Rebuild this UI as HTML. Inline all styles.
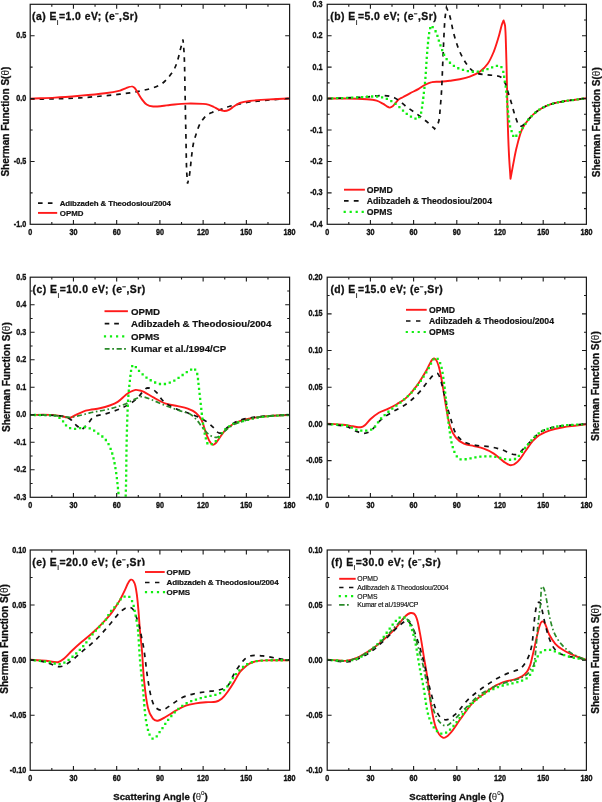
<!DOCTYPE html><html><head><meta charset="utf-8"><style>html,body{margin:0;padding:0;background:#fff;width:602px;height:802px;overflow:hidden}svg{display:block;will-change:transform}text{font-family:"Liberation Sans", sans-serif;}</style></head><body>
<svg width="602" height="802" viewBox="0 0 602 802">
<rect width="602" height="802" fill="#fff"/>
<defs><clipPath id="clipa"><rect x="30.2" y="4.3" width="259.4" height="220.0"/></clipPath></defs>
<g clip-path="url(#clipa)">
<path d="M30.0 99.2C38.3 99.1 46.7 99.0 55.0 98.8C63.3 98.6 71.7 98.4 80.0 97.9C88.3 97.4 96.7 96.5 105.0 95.7C113.3 94.9 121.7 94.0 130.0 92.9C133.4 92.4 136.7 91.7 140.0 91.0C144.4 90.0 148.9 89.2 153.2 87.8C156.1 86.9 158.9 85.6 161.5 84.0C163.6 82.7 165.3 80.8 167.0 79.0C168.5 77.5 169.8 75.8 171.0 74.0C172.5 71.9 173.9 69.8 175.0 67.5C176.3 64.8 177.1 61.9 178.0 59.0C179.0 55.7 179.6 52.3 180.5 49.0C181.3 45.8 182.2 42.7 183.0 39.5C183.4 44.7 184.0 49.8 184.2 55.0C184.7 66.7 184.8 78.3 185.0 90.0C185.3 103.3 185.5 116.7 185.8 130.0C186.1 143.3 186.2 156.7 186.6 170.0C186.8 174.5 187.3 179.1 187.6 183.6C188.2 180.7 189.1 177.9 189.5 175.0C190.4 169.0 190.8 163.0 191.5 157.0C192.1 152.3 192.6 147.6 193.5 143.0C194.1 140.1 195.1 137.3 196.0 134.5C197.2 130.9 198.2 127.2 200.0 123.8C201.6 120.9 203.6 118.1 206.0 115.8C207.7 114.2 209.9 113.4 212.0 112.5C214.5 111.4 217.2 110.8 219.8 109.9C223.1 108.7 226.4 107.3 229.8 106.3C233.1 105.3 236.5 104.7 239.8 104.0C243.1 103.3 246.4 102.4 249.7 102.0C256.3 101.1 263.0 100.6 269.7 100.0C276.3 99.4 283.0 98.9 289.6 98.4" fill="none" stroke="#111" stroke-width="1.7" stroke-dasharray="4.6 5"/>
<path d="M30.0 98.7C38.3 98.3 46.7 98.1 55.0 97.6C63.3 97.1 71.7 96.4 80.0 95.7C88.3 95.0 96.7 94.3 105.0 93.2C110.0 92.6 115.1 91.8 120.0 90.6C122.1 90.1 124.0 88.9 126.0 88.2C127.8 87.5 129.6 86.5 131.6 86.4C132.7 86.3 133.7 87.1 134.5 87.8C135.6 88.8 136.2 90.2 137.0 91.5C138.6 93.9 139.9 96.6 141.6 98.9C143.1 100.9 144.5 103.1 146.6 104.5C148.5 105.8 150.9 106.3 153.2 106.5C156.1 106.8 159.1 106.3 162.0 106.0C164.6 105.8 167.2 105.3 169.8 105.0C175.3 104.5 180.9 103.8 186.4 103.6C191.9 103.4 197.5 103.6 203.0 103.9C205.0 104.0 207.1 104.3 209.0 104.8C210.8 105.3 212.4 106.2 214.0 107.0C215.7 107.8 217.2 108.9 219.0 109.6C220.8 110.3 222.6 111.0 224.5 111.0C226.1 111.0 227.6 110.5 229.0 109.8C230.7 109.0 232.2 107.5 233.8 106.5C235.8 105.3 237.6 103.8 239.8 103.0C243.0 101.9 246.4 101.4 249.7 101.0C256.3 100.2 263.0 99.8 269.7 99.4C276.3 99.0 283.0 98.7 289.6 98.4" fill="none" stroke="#ff1a1a" stroke-width="1.9" stroke-linejoin="round"/>
</g>
<rect x="30.2" y="4.3" width="259.4" height="220.0" fill="none" stroke="#1a1a1a" stroke-width="1.2"/>
<path d="M51.82 224.3v-2.4M51.82 4.3v2.4M73.43 224.3v-4.4M73.43 4.3v4.4M95.05 224.3v-2.4M95.05 4.3v2.4M116.67 224.3v-4.4M116.67 4.3v4.4M138.28 224.3v-2.4M138.28 4.3v2.4M159.9 224.3v-4.4M159.9 4.3v4.4M181.52 224.3v-2.4M181.52 4.3v2.4M203.13 224.3v-4.4M203.13 4.3v4.4M224.75 224.3v-2.4M224.75 4.3v2.4M246.37 224.3v-4.4M246.37 4.3v4.4M267.98 224.3v-2.4M267.98 4.3v2.4M30.2 192.87h2.4M289.6 192.87h-2.4M30.2 161.44h4.4M289.6 161.44h-4.4M30.2 130.01h2.4M289.6 130.01h-2.4M30.2 98.59h4.4M289.6 98.59h-4.4M30.2 67.16h2.4M289.6 67.16h-2.4M30.2 35.73h4.4M289.6 35.73h-4.4" stroke="#1a1a1a" stroke-width="1.1" fill="none"/>
<g font-size="8.4" font-weight="bold" fill="#111" stroke="#111" stroke-width="0.35"><text x="30.2" y="234.9" text-anchor="middle" textLength="4.02" lengthAdjust="spacingAndGlyphs">0</text><text x="73.43" y="234.9" text-anchor="middle" textLength="8.04" lengthAdjust="spacingAndGlyphs">30</text><text x="116.67" y="234.9" text-anchor="middle" textLength="8.04" lengthAdjust="spacingAndGlyphs">60</text><text x="159.9" y="234.9" text-anchor="middle" textLength="8.04" lengthAdjust="spacingAndGlyphs">90</text><text x="203.13" y="234.9" text-anchor="middle" textLength="12.05" lengthAdjust="spacingAndGlyphs">120</text><text x="246.37" y="234.9" text-anchor="middle" textLength="12.05" lengthAdjust="spacingAndGlyphs">150</text><text x="289.6" y="234.9" text-anchor="middle" textLength="12.05" lengthAdjust="spacingAndGlyphs">180</text><text x="26.3" y="226.9" text-anchor="end" textLength="12.45" lengthAdjust="spacingAndGlyphs">-1.0</text><text x="26.3" y="164.04" text-anchor="end" textLength="12.45" lengthAdjust="spacingAndGlyphs">-0.5</text><text x="26.3" y="101.19" text-anchor="end" textLength="10.04" lengthAdjust="spacingAndGlyphs">0.0</text><text x="26.3" y="38.33" text-anchor="end" textLength="10.04" lengthAdjust="spacingAndGlyphs">0.5</text></g>
<defs><clipPath id="clipb"><rect x="327.2" y="4.3" width="259.2" height="220.0"/></clipPath></defs>
<g clip-path="url(#clipb)">
<path d="M327.2 98.5C333.8 98.5 340.4 98.4 347.0 98.5C353.6 98.6 360.3 98.8 366.9 99.3C370.2 99.5 373.5 99.7 376.6 100.6C379.0 101.3 381.1 102.7 383.3 103.9C384.7 104.7 385.9 105.8 387.3 106.6C388.1 107.1 389.0 107.7 389.9 107.6C390.9 107.5 391.8 106.9 392.6 106.3C393.6 105.5 394.3 104.3 395.2 103.3C396.3 102.1 397.3 100.6 398.6 99.6C400.0 98.5 401.7 97.9 403.2 97.0C405.4 95.8 407.6 94.5 409.9 93.3C412.8 91.8 415.8 90.5 418.7 88.9C420.8 87.7 422.6 86.1 424.7 85.0C427.0 83.8 429.4 82.6 431.9 82.1C434.5 81.5 437.2 81.9 439.9 81.7C443.2 81.4 446.5 81.1 449.8 80.7C453.1 80.3 456.5 80.0 459.8 79.3C463.2 78.6 466.6 77.9 469.8 76.7C473.2 75.4 476.7 74.0 479.7 71.8C482.8 69.6 485.5 66.9 487.7 63.8C490.3 60.1 492.0 55.9 493.7 51.8C495.8 46.7 497.3 41.3 498.9 36.0C500.0 32.2 500.8 28.3 501.9 24.5C502.3 23.1 503.0 21.8 503.6 20.4C504.1 22.3 504.9 24.1 505.1 26.0C505.8 34.0 505.8 42.0 506.1 50.0C506.4 60.7 506.7 71.3 506.9 82.0C507.2 93.5 507.3 105.1 507.6 116.6C507.9 128.8 508.3 140.9 508.9 153.1C509.3 161.6 510.0 170.2 510.5 178.7C511.3 174.4 512.1 170.2 512.9 165.9C514.1 159.8 515.1 153.6 516.6 147.6C518.1 141.5 519.5 135.2 522.0 129.4C523.8 125.4 526.5 121.8 529.4 118.4C532.1 115.3 535.1 112.5 538.5 110.2C541.9 107.9 545.6 106.1 549.5 104.7C553.6 103.2 558.0 102.4 562.3 101.6C566.5 100.8 570.8 100.3 575.1 99.7C578.7 99.2 582.4 98.8 586.0 98.3" fill="none" stroke="#ff1a1a" stroke-width="1.9" stroke-linejoin="round"/>
<path d="M327.2 98.5C333.8 98.3 340.4 98.2 347.0 97.9C353.6 97.6 360.3 97.3 366.9 96.9C372.2 96.5 377.5 95.3 382.8 95.5C386.9 95.6 391.1 96.1 394.8 97.9C399.3 100.0 402.7 104.0 406.7 106.9C411.3 110.3 416.1 113.4 420.7 116.8C423.9 119.2 427.0 121.9 430.0 124.5C431.6 125.9 433.1 127.4 434.6 128.8C435.9 126.5 437.9 124.4 438.6 121.8C439.8 117.3 439.8 112.6 440.2 108.0C440.8 102.0 441.3 95.9 441.6 89.9C442.2 79.9 442.4 69.8 442.9 59.8C443.5 46.7 443.9 33.6 444.8 20.5C445.1 16.1 445.9 11.8 446.5 7.5C447.6 10.3 449.0 13.0 449.8 15.9C451.4 21.8 452.2 28.0 453.8 33.9C455.5 40.0 457.3 46.0 459.8 51.8C462.0 56.7 464.6 61.5 467.8 65.8C469.9 68.6 472.5 71.2 475.7 72.8C478.7 74.3 482.3 74.2 485.7 74.7C489.0 75.2 492.4 75.1 495.7 75.7C497.8 76.1 500.1 76.3 501.7 77.7C503.6 79.3 504.5 81.8 505.5 84.0C506.6 86.6 507.2 89.3 508.0 92.0C509.0 95.3 510.1 98.6 511.1 101.9C512.4 106.2 513.4 110.5 514.7 114.7C515.8 118.2 517.2 121.7 518.4 125.2C519.6 125.5 521.0 126.6 522.0 126.0C525.0 124.1 526.8 120.8 529.4 118.4C532.3 115.6 535.1 112.5 538.5 110.2C541.9 107.9 545.6 106.1 549.5 104.7C553.6 103.2 558.0 102.4 562.3 101.6C566.5 100.8 570.8 100.3 575.1 99.7C578.7 99.2 582.4 98.8 586.0 98.3" fill="none" stroke="#111" stroke-width="1.7" stroke-dasharray="4.6 5"/>
<path d="M327.2 98.5C337.1 98.2 347.0 97.9 356.9 97.5C363.5 97.2 370.2 96.2 376.8 96.5C380.2 96.7 383.6 97.6 386.8 98.9C390.4 100.4 393.7 102.6 396.8 104.9C400.4 107.6 403.2 111.1 406.7 113.8C408.6 115.3 410.8 116.5 413.0 117.6C414.5 118.4 416.1 118.8 417.7 119.4C418.7 117.6 420.3 116.0 420.8 114.0C422.0 109.4 422.3 104.7 423.0 100.0C423.5 96.6 423.8 93.3 424.2 89.9C424.6 86.5 425.0 83.1 425.3 79.7C426.1 69.7 426.5 59.8 427.4 49.8C428.0 43.2 428.5 36.6 429.6 30.0C429.9 28.4 430.8 27.0 431.4 25.5C432.9 27.6 434.8 29.5 435.9 31.9C437.7 35.7 438.4 40.0 439.9 43.9C441.7 48.6 443.1 53.6 445.8 57.8C447.8 61.0 450.7 63.7 453.8 65.8C456.8 67.9 460.3 69.2 463.8 70.2C467.7 71.3 471.7 71.9 475.7 71.8C479.1 71.7 482.4 70.7 485.7 69.8C488.4 69.0 491.0 67.6 493.7 66.8C495.6 66.2 497.8 65.2 499.7 65.8C501.3 66.3 502.1 68.2 502.7 69.8C503.8 73.0 504.1 76.4 504.6 79.7C505.3 83.8 505.9 87.9 506.3 92.0C506.9 97.1 507.1 102.3 507.6 107.4C508.2 112.9 508.4 118.5 509.5 124.0C510.5 128.7 512.4 133.1 513.8 137.6C515.3 136.4 517.1 135.4 518.4 133.9C520.2 132.0 521.5 129.6 523.0 127.5C525.1 124.5 526.9 121.2 529.4 118.4C532.1 115.4 535.1 112.5 538.5 110.2C541.9 107.9 545.6 106.1 549.5 104.7C553.6 103.2 558.0 102.4 562.3 101.6C566.5 100.8 570.8 100.3 575.1 99.7C578.7 99.2 582.4 98.8 586.0 98.3" fill="none" stroke="#11ee11" stroke-width="2.3" stroke-linecap="square" stroke-dasharray="0 5"/>
</g>
<rect x="327.2" y="4.3" width="259.2" height="220.0" fill="none" stroke="#1a1a1a" stroke-width="1.2"/>
<path d="M348.8 224.3v-2.4M348.8 4.3v2.4M370.4 224.3v-4.4M370.4 4.3v4.4M392 224.3v-2.4M392 4.3v2.4M413.6 224.3v-4.4M413.6 4.3v4.4M435.2 224.3v-2.4M435.2 4.3v2.4M456.8 224.3v-4.4M456.8 4.3v4.4M478.4 224.3v-2.4M478.4 4.3v2.4M500 224.3v-4.4M500 4.3v4.4M521.6 224.3v-2.4M521.6 4.3v2.4M543.2 224.3v-4.4M543.2 4.3v4.4M564.8 224.3v-2.4M564.8 4.3v2.4M327.2 208.59h2.4M586.4 208.59h-2.4M327.2 192.87h4.4M586.4 192.87h-4.4M327.2 177.16h2.4M586.4 177.16h-2.4M327.2 161.44h4.4M586.4 161.44h-4.4M327.2 145.73h2.4M586.4 145.73h-2.4M327.2 130.01h4.4M586.4 130.01h-4.4M327.2 114.3h2.4M586.4 114.3h-2.4M327.2 98.59h4.4M586.4 98.59h-4.4M327.2 82.87h2.4M586.4 82.87h-2.4M327.2 67.16h4.4M586.4 67.16h-4.4M327.2 51.44h2.4M586.4 51.44h-2.4M327.2 35.73h4.4M586.4 35.73h-4.4M327.2 20.01h2.4M586.4 20.01h-2.4" stroke="#1a1a1a" stroke-width="1.1" fill="none"/>
<g font-size="8.4" font-weight="bold" fill="#111" stroke="#111" stroke-width="0.35"><text x="327.2" y="234.9" text-anchor="middle" textLength="4.02" lengthAdjust="spacingAndGlyphs">0</text><text x="370.4" y="234.9" text-anchor="middle" textLength="8.04" lengthAdjust="spacingAndGlyphs">30</text><text x="413.6" y="234.9" text-anchor="middle" textLength="8.04" lengthAdjust="spacingAndGlyphs">60</text><text x="456.8" y="234.9" text-anchor="middle" textLength="8.04" lengthAdjust="spacingAndGlyphs">90</text><text x="500" y="234.9" text-anchor="middle" textLength="12.05" lengthAdjust="spacingAndGlyphs">120</text><text x="543.2" y="234.9" text-anchor="middle" textLength="12.05" lengthAdjust="spacingAndGlyphs">150</text><text x="586.4" y="234.9" text-anchor="middle" textLength="12.05" lengthAdjust="spacingAndGlyphs">180</text><text x="322.6" y="226.9" text-anchor="end" textLength="12.45" lengthAdjust="spacingAndGlyphs">-0.4</text><text x="322.6" y="195.47" text-anchor="end" textLength="12.45" lengthAdjust="spacingAndGlyphs">-0.3</text><text x="322.6" y="164.04" text-anchor="end" textLength="12.45" lengthAdjust="spacingAndGlyphs">-0.2</text><text x="322.6" y="132.61" text-anchor="end" textLength="12.45" lengthAdjust="spacingAndGlyphs">-0.1</text><text x="322.6" y="101.19" text-anchor="end" textLength="10.04" lengthAdjust="spacingAndGlyphs">0.0</text><text x="322.6" y="69.76" text-anchor="end" textLength="10.04" lengthAdjust="spacingAndGlyphs">0.1</text><text x="322.6" y="38.33" text-anchor="end" textLength="10.04" lengthAdjust="spacingAndGlyphs">0.2</text><text x="322.6" y="6.9" text-anchor="end" textLength="10.04" lengthAdjust="spacingAndGlyphs">0.3</text></g>
<defs><clipPath id="clipc"><rect x="30.2" y="277.2" width="259.4" height="220.1"/></clipPath></defs>
<g clip-path="url(#clipc)">
<path d="M30.0 414.9C36.6 414.9 43.3 414.7 49.9 414.9C53.2 415.0 56.6 415.4 59.9 415.9C61.6 416.1 63.3 416.7 65.0 417.0C66.6 417.3 68.3 418.2 69.9 417.9C72.1 417.5 73.8 415.8 75.8 414.9C78.4 413.6 81.0 412.3 83.8 411.3C85.7 410.6 87.8 410.3 89.8 409.9C93.1 409.3 96.5 409.0 99.8 408.3C103.1 407.6 106.5 406.7 109.7 405.5C112.5 404.5 115.3 403.5 117.7 401.9C120.6 400.0 123.0 397.2 125.7 395.0C127.1 393.9 128.4 392.8 130.0 392.0C131.8 391.1 133.6 390.2 135.6 389.9C137.1 389.7 138.6 390.2 140.0 390.5C141.3 390.8 142.7 391.2 143.9 391.8C147.3 393.6 150.5 395.9 153.9 397.7C157.8 399.8 161.6 402.2 165.8 403.7C169.6 405.1 173.8 405.2 177.8 406.1C181.2 406.9 184.6 407.5 187.8 408.7C190.6 409.7 193.4 410.8 195.7 412.7C198.1 414.7 200.2 417.3 201.6 420.2C203.9 424.8 204.7 430.1 206.6 434.9C207.8 437.8 208.9 440.8 210.8 443.2C211.5 444.1 213.0 445.0 214.1 444.5C216.0 443.6 216.9 441.4 218.2 439.8C220.5 436.8 222.3 433.4 224.9 430.7C227.3 428.1 230.1 425.8 233.2 424.0C236.3 422.2 239.7 420.9 243.2 419.9C247.5 418.7 252.0 418.0 256.4 417.4C261.9 416.6 267.5 416.1 273.0 415.7C278.6 415.3 284.1 415.2 289.7 414.9" fill="none" stroke="#ff1a1a" stroke-width="1.9" stroke-linejoin="round"/>
<path d="M30.0 414.9C40.0 415.2 50.0 414.9 59.9 415.9C63.4 416.2 66.9 417.2 69.9 418.9C72.3 420.3 73.7 422.9 75.8 424.8C77.7 426.6 79.8 428.1 81.8 429.8C83.8 427.8 85.9 426.0 87.8 423.9C89.9 421.6 91.1 418.4 93.8 416.9C97.4 414.9 101.8 415.1 105.7 413.9C110.4 412.4 115.1 410.8 119.7 408.9C123.1 407.5 126.5 405.9 129.7 403.9C132.5 402.2 135.2 400.2 137.6 397.9C139.6 396.0 141.0 393.5 143.0 391.5C144.5 390.1 145.9 387.8 147.9 387.8C150.9 387.9 153.6 389.8 155.9 391.8C159.1 394.6 160.7 399.0 163.9 401.7C167.4 404.7 171.6 406.8 175.8 408.7C180.3 410.8 185.2 412.0 189.8 413.7C193.1 415.0 196.5 416.2 199.7 417.7C202.1 418.8 204.4 420.1 206.6 421.6C209.0 423.3 211.1 425.5 213.3 427.4C215.5 429.3 217.0 433.0 219.9 433.2C222.7 433.4 224.2 429.8 226.5 428.2C229.8 425.9 232.9 423.3 236.5 421.6C240.2 419.9 244.1 419.0 248.1 418.2C253.6 417.1 259.2 416.6 264.8 416.2C273.1 415.5 281.4 415.3 289.7 414.9" fill="none" stroke="#111" stroke-width="1.7" stroke-dasharray="4.6 5"/>
<path d="M30.0 414.9C38.0 415.1 46.0 414.9 53.9 415.5C55.4 415.6 56.7 416.3 58.0 417.0C59.4 417.8 60.8 418.8 61.9 419.9C63.1 421.1 63.9 422.7 65.0 424.0C65.9 425.1 66.6 426.5 67.9 427.2C69.7 428.2 71.8 428.6 73.9 428.8C75.9 429.0 78.0 428.5 80.0 428.2C82.0 427.9 83.8 426.9 85.8 427.0C87.3 427.0 88.7 427.9 90.0 428.5C92.0 429.5 94.0 430.5 95.8 431.8C99.2 434.3 103.1 436.5 105.7 439.8C108.5 443.3 110.3 447.6 111.7 451.8C113.6 457.6 114.7 463.7 115.7 469.7C117.1 478.3 117.8 487.0 118.7 495.6C119.4 502.1 119.9 508.5 120.5 515.0C121.7 515.0 122.8 515.0 124.0 515.0C124.6 508.5 125.5 502.1 125.7 495.6C126.4 477.0 126.2 458.4 126.7 439.8C127.0 426.5 127.4 413.2 128.1 399.9C128.5 393.2 129.2 386.5 130.0 379.8C130.5 375.3 130.8 370.8 132.0 366.5C132.2 365.7 133.3 365.4 134.0 364.8C136.0 367.1 137.7 369.7 139.9 371.8C143.0 374.7 146.2 377.7 149.9 379.8C153.6 381.9 157.6 384.0 161.9 384.2C166.0 384.4 170.1 382.6 173.8 380.8C178.1 378.7 181.7 375.4 185.8 372.8C188.4 371.2 191.1 369.7 193.7 368.2C194.7 369.4 196.3 370.3 196.7 371.8C198.0 376.3 198.1 381.1 198.7 385.8C199.4 391.8 200.0 397.7 200.7 403.7C201.5 410.8 202.2 417.9 203.2 425.0C203.8 429.0 204.5 433.1 205.5 437.0C206.2 439.5 206.3 442.7 208.3 444.3C209.6 445.4 211.8 444.1 213.3 443.2C215.3 442.0 216.7 440.0 218.2 438.2C220.5 435.5 222.3 432.3 224.9 429.9C227.4 427.6 230.1 425.4 233.2 424.0C236.8 422.3 240.9 421.7 244.8 420.7C248.7 419.7 252.5 418.5 256.4 417.8C261.9 416.9 267.5 416.4 273.0 415.9C278.6 415.4 284.1 415.2 289.7 414.9" fill="none" stroke="#11ee11" stroke-width="2.3" stroke-linecap="square" stroke-dasharray="0 5"/>
<path d="M30.0 414.9C40.0 415.2 49.9 415.3 59.9 415.9C63.3 416.1 66.5 417.4 69.9 417.3C73.3 417.2 76.5 416.2 79.8 415.5C83.2 414.8 86.4 413.6 89.8 412.9C96.4 411.4 103.1 410.5 109.7 408.9C115.1 407.5 120.5 405.8 125.7 403.9C127.2 403.3 128.5 402.2 130.0 401.5C131.8 400.6 133.7 399.7 135.6 398.9C137.7 398.1 139.7 396.5 141.9 396.7C146.1 397.1 150.0 399.2 153.9 400.7C157.9 402.2 161.8 404.2 165.8 405.7C170.4 407.5 175.1 409.1 179.8 410.7C183.2 411.9 186.9 412.3 190.0 414.0C192.6 415.4 194.6 417.7 196.6 419.9C199.1 422.6 200.9 425.8 203.3 428.5C205.4 430.9 207.3 433.5 209.9 435.2C211.9 436.5 214.3 437.8 216.6 437.3C219.3 436.7 221.0 434.0 223.2 432.4C226.5 429.9 229.5 426.9 233.2 424.9C236.8 422.9 240.9 421.9 244.8 420.7C248.6 419.5 252.5 418.3 256.4 417.6C261.9 416.6 267.5 416.2 273.0 415.8C278.6 415.3 284.1 415.2 289.7 414.9" fill="none" stroke="#2a8a2a" stroke-width="1.7" stroke-dasharray="5 2.6 1.6 2.6"/>
</g>
<rect x="30.2" y="277.2" width="259.4" height="220.1" fill="none" stroke="#1a1a1a" stroke-width="1.2"/>
<path d="M51.82 497.3v-2.4M51.82 277.2v2.4M73.43 497.3v-4.4M73.43 277.2v4.4M95.05 497.3v-2.4M95.05 277.2v2.4M116.67 497.3v-4.4M116.67 277.2v4.4M138.28 497.3v-2.4M138.28 277.2v2.4M159.9 497.3v-4.4M159.9 277.2v4.4M181.52 497.3v-2.4M181.52 277.2v2.4M203.13 497.3v-4.4M203.13 277.2v4.4M224.75 497.3v-2.4M224.75 277.2v2.4M246.37 497.3v-4.4M246.37 277.2v4.4M267.98 497.3v-2.4M267.98 277.2v2.4M30.2 483.54h2.4M289.6 483.54h-2.4M30.2 469.79h4.4M289.6 469.79h-4.4M30.2 456.03h2.4M289.6 456.03h-2.4M30.2 442.27h4.4M289.6 442.27h-4.4M30.2 428.52h2.4M289.6 428.52h-2.4M30.2 414.76h4.4M289.6 414.76h-4.4M30.2 401.01h2.4M289.6 401.01h-2.4M30.2 387.25h4.4M289.6 387.25h-4.4M30.2 373.49h2.4M289.6 373.49h-2.4M30.2 359.74h4.4M289.6 359.74h-4.4M30.2 345.98h2.4M289.6 345.98h-2.4M30.2 332.22h4.4M289.6 332.22h-4.4M30.2 318.47h2.4M289.6 318.47h-2.4M30.2 304.71h4.4M289.6 304.71h-4.4M30.2 290.96h2.4M289.6 290.96h-2.4" stroke="#1a1a1a" stroke-width="1.1" fill="none"/>
<g font-size="8.4" font-weight="bold" fill="#111" stroke="#111" stroke-width="0.35"><text x="30.2" y="507.9" text-anchor="middle" textLength="4.02" lengthAdjust="spacingAndGlyphs">0</text><text x="73.43" y="507.9" text-anchor="middle" textLength="8.04" lengthAdjust="spacingAndGlyphs">30</text><text x="116.67" y="507.9" text-anchor="middle" textLength="8.04" lengthAdjust="spacingAndGlyphs">60</text><text x="159.9" y="507.9" text-anchor="middle" textLength="8.04" lengthAdjust="spacingAndGlyphs">90</text><text x="203.13" y="507.9" text-anchor="middle" textLength="12.05" lengthAdjust="spacingAndGlyphs">120</text><text x="246.37" y="507.9" text-anchor="middle" textLength="12.05" lengthAdjust="spacingAndGlyphs">150</text><text x="289.6" y="507.9" text-anchor="middle" textLength="12.05" lengthAdjust="spacingAndGlyphs">180</text><text x="26.3" y="499.9" text-anchor="end" textLength="12.45" lengthAdjust="spacingAndGlyphs">-0.3</text><text x="26.3" y="472.39" text-anchor="end" textLength="12.45" lengthAdjust="spacingAndGlyphs">-0.2</text><text x="26.3" y="444.88" text-anchor="end" textLength="12.45" lengthAdjust="spacingAndGlyphs">-0.1</text><text x="26.3" y="417.36" text-anchor="end" textLength="10.04" lengthAdjust="spacingAndGlyphs">0.0</text><text x="26.3" y="389.85" text-anchor="end" textLength="10.04" lengthAdjust="spacingAndGlyphs">0.1</text><text x="26.3" y="362.34" text-anchor="end" textLength="10.04" lengthAdjust="spacingAndGlyphs">0.2</text><text x="26.3" y="334.83" text-anchor="end" textLength="10.04" lengthAdjust="spacingAndGlyphs">0.3</text><text x="26.3" y="307.31" text-anchor="end" textLength="10.04" lengthAdjust="spacingAndGlyphs">0.4</text><text x="26.3" y="279.8" text-anchor="end" textLength="10.04" lengthAdjust="spacingAndGlyphs">0.5</text></g>
<defs><clipPath id="clipd"><rect x="327.2" y="277.2" width="259.2" height="220.1"/></clipPath></defs>
<g clip-path="url(#clipd)">
<path d="M327.2 423.7C332.5 424.0 337.7 424.2 343.0 424.7C346.3 425.0 349.6 425.8 352.9 426.3C355.6 426.7 358.2 427.5 360.9 427.3C362.4 427.2 363.8 426.3 364.9 425.3C367.1 423.4 368.7 420.8 370.9 418.8C373.4 416.6 376.0 414.5 378.8 412.8C381.3 411.3 384.2 410.6 386.8 409.4C390.2 407.8 393.6 406.1 396.8 404.2C400.2 402.1 403.8 400.1 406.7 397.4C410.4 394.0 413.7 390.0 416.7 385.9C420.4 380.8 423.5 375.3 426.7 369.9C428.3 367.2 429.3 364.2 431.0 361.5C431.8 360.3 432.6 357.9 434.0 358.4C436.2 359.2 437.3 361.8 438.0 364.0C440.0 369.8 440.9 375.9 442.0 381.9C443.5 389.8 444.5 397.9 445.9 405.8C447.1 412.5 447.9 419.2 449.9 425.7C451.2 430.0 453.2 434.2 455.9 437.7C457.9 440.3 460.9 442.3 463.9 443.7C467.0 445.1 470.6 445.3 473.9 446.1C477.2 446.9 480.6 447.5 483.8 448.7C487.3 450.0 490.7 451.6 493.8 453.6C497.4 455.9 500.2 459.2 503.7 461.6C505.9 463.1 508.1 465.2 510.7 465.2C513.3 465.2 515.8 463.4 517.7 461.6C520.9 458.5 523.0 454.3 525.7 450.7C528.0 447.5 530.0 444.2 532.6 441.2C534.6 439.0 536.7 436.8 539.2 435.2C542.5 433.1 546.2 431.5 549.9 430.3C554.2 428.9 558.7 428.0 563.2 427.2C567.6 426.4 572.0 426.1 576.4 425.5C579.7 425.1 583.0 424.7 586.3 424.3" fill="none" stroke="#ff1a1a" stroke-width="1.9" stroke-linejoin="round"/>
<path d="M327.2 424.1C333.8 425.0 340.5 425.2 346.9 426.7C349.8 427.4 352.1 429.6 354.9 430.7C357.8 431.8 360.8 433.3 363.9 433.3C366.4 433.3 369.0 432.3 370.9 430.7C374.7 427.6 377.1 423.0 380.8 419.8C384.4 416.7 388.7 414.3 392.8 411.8C397.3 409.0 402.4 407.0 406.7 403.8C411.1 400.6 415.0 396.8 418.7 392.9C421.7 389.8 424.0 386.2 426.7 382.9C429.3 379.9 431.5 376.5 434.6 374.0C435.5 373.3 437.4 373.0 438.0 373.9C440.2 377.1 440.9 381.1 442.0 384.9C443.6 390.5 444.5 396.2 445.9 401.8C447.1 406.5 448.4 411.2 449.9 415.8C451.8 421.8 452.9 428.2 455.9 433.7C457.7 437.0 460.6 439.8 463.9 441.7C467.5 443.8 471.7 444.5 475.8 445.3C480.4 446.2 485.2 445.9 489.8 446.7C493.9 447.4 497.9 448.5 501.8 449.7C506.5 451.1 510.8 454.8 515.7 454.6C519.0 454.4 521.2 450.9 523.7 448.7C526.0 446.7 527.8 444.2 529.9 442.0C532.1 439.7 534.2 437.3 536.6 435.2C538.6 433.5 540.8 431.7 543.2 430.6C546.6 429.0 550.2 428.0 553.9 427.2C558.2 426.2 562.7 425.6 567.1 425.2C573.5 424.6 579.9 424.5 586.3 424.2" fill="none" stroke="#111" stroke-width="1.7" stroke-dasharray="4.6 5"/>
<path d="M327.2 424.1C333.8 424.6 340.4 424.5 346.9 425.7C350.4 426.4 353.4 428.7 356.9 429.7C359.5 430.4 362.2 430.9 364.9 430.7C367.6 430.5 370.6 430.3 372.8 428.7C376.2 426.2 377.9 421.9 380.8 418.8C383.9 415.6 387.3 412.6 390.8 409.8C394.6 406.6 399.0 404.1 402.7 400.8C406.9 397.1 411.1 393.2 414.7 388.9C419.1 383.6 422.9 377.7 426.7 371.9C428.7 368.8 429.9 365.1 432.0 362.0C433.1 360.4 434.1 357.3 436.0 357.8C438.6 358.6 439.7 361.9 440.6 364.5C442.3 369.4 442.8 374.7 443.6 379.9C444.6 386.6 445.2 393.3 446.0 400.0C447.0 408.6 447.7 417.2 448.9 425.7C450.0 433.1 450.7 440.6 452.9 447.7C454.1 451.7 455.8 455.9 458.9 458.6C460.7 460.2 463.6 459.4 465.9 459.2C470.6 458.8 475.1 457.0 479.8 456.6C484.4 456.2 489.2 456.1 493.8 456.6C498.5 457.1 503.0 459.2 507.7 459.6C510.4 459.8 513.4 460.0 515.7 458.6C519.1 456.5 521.1 452.7 523.7 449.7C525.8 447.2 527.7 444.5 529.9 442.0C532.0 439.6 534.2 437.3 536.6 435.2C538.6 433.5 540.8 431.7 543.2 430.6C546.6 429.0 550.2 428.0 553.9 427.2C558.2 426.2 562.7 425.6 567.1 425.2C573.5 424.6 579.9 424.5 586.3 424.2" fill="none" stroke="#11ee11" stroke-width="2.3" stroke-linecap="square" stroke-dasharray="0 5"/>
</g>
<rect x="327.2" y="277.2" width="259.2" height="220.1" fill="none" stroke="#1a1a1a" stroke-width="1.2"/>
<path d="M348.8 497.3v-2.4M348.8 277.2v2.4M370.4 497.3v-4.4M370.4 277.2v4.4M392 497.3v-2.4M392 277.2v2.4M413.6 497.3v-4.4M413.6 277.2v4.4M435.2 497.3v-2.4M435.2 277.2v2.4M456.8 497.3v-4.4M456.8 277.2v4.4M478.4 497.3v-2.4M478.4 277.2v2.4M500 497.3v-4.4M500 277.2v4.4M521.6 497.3v-2.4M521.6 277.2v2.4M543.2 497.3v-4.4M543.2 277.2v4.4M564.8 497.3v-2.4M564.8 277.2v2.4M327.2 478.96h2.4M586.4 478.96h-2.4M327.2 460.62h4.4M586.4 460.62h-4.4M327.2 442.27h2.4M586.4 442.27h-2.4M327.2 423.93h4.4M586.4 423.93h-4.4M327.2 405.59h2.4M586.4 405.59h-2.4M327.2 387.25h4.4M586.4 387.25h-4.4M327.2 368.91h2.4M586.4 368.91h-2.4M327.2 350.57h4.4M586.4 350.57h-4.4M327.2 332.23h2.4M586.4 332.23h-2.4M327.2 313.88h4.4M586.4 313.88h-4.4M327.2 295.54h2.4M586.4 295.54h-2.4" stroke="#1a1a1a" stroke-width="1.1" fill="none"/>
<g font-size="8.4" font-weight="bold" fill="#111" stroke="#111" stroke-width="0.35"><text x="327.2" y="507.9" text-anchor="middle" textLength="4.02" lengthAdjust="spacingAndGlyphs">0</text><text x="370.4" y="507.9" text-anchor="middle" textLength="8.04" lengthAdjust="spacingAndGlyphs">30</text><text x="413.6" y="507.9" text-anchor="middle" textLength="8.04" lengthAdjust="spacingAndGlyphs">60</text><text x="456.8" y="507.9" text-anchor="middle" textLength="8.04" lengthAdjust="spacingAndGlyphs">90</text><text x="500" y="507.9" text-anchor="middle" textLength="12.05" lengthAdjust="spacingAndGlyphs">120</text><text x="543.2" y="507.9" text-anchor="middle" textLength="12.05" lengthAdjust="spacingAndGlyphs">150</text><text x="586.4" y="507.9" text-anchor="middle" textLength="12.05" lengthAdjust="spacingAndGlyphs">180</text><text x="322.6" y="499.9" text-anchor="end" textLength="16.47" lengthAdjust="spacingAndGlyphs">-0.10</text><text x="322.6" y="463.22" text-anchor="end" textLength="16.47" lengthAdjust="spacingAndGlyphs">-0.05</text><text x="322.6" y="426.53" text-anchor="end" textLength="14.06" lengthAdjust="spacingAndGlyphs">0.00</text><text x="322.6" y="389.85" text-anchor="end" textLength="14.06" lengthAdjust="spacingAndGlyphs">0.05</text><text x="322.6" y="353.17" text-anchor="end" textLength="14.06" lengthAdjust="spacingAndGlyphs">0.10</text><text x="322.6" y="316.48" text-anchor="end" textLength="14.06" lengthAdjust="spacingAndGlyphs">0.15</text><text x="322.6" y="279.8" text-anchor="end" textLength="14.06" lengthAdjust="spacingAndGlyphs">0.20</text></g>
<defs><clipPath id="clipe"><rect x="30.2" y="550.0" width="259.4" height="220.3"/></clipPath></defs>
<g clip-path="url(#clipe)">
<path d="M30.0 659.8C35.3 660.1 40.6 660.3 45.9 660.8C49.9 661.1 53.9 662.6 57.9 662.2C60.2 661.9 62.1 660.3 63.9 658.8C66.8 656.4 69.2 653.4 71.9 650.8C75.1 647.7 78.4 644.7 81.8 641.8C85.1 639.0 88.6 636.4 91.8 633.5C95.2 630.4 98.6 627.2 101.8 623.9C104.6 621.0 107.4 618.0 110.0 614.9C111.8 612.7 113.4 610.3 115.0 607.9C116.7 605.3 118.5 602.6 120.0 599.9C121.8 596.6 123.4 593.3 125.0 589.9C126.2 587.5 127.0 584.8 128.4 582.5C129.0 581.4 129.7 580.1 130.9 579.7C131.8 579.4 132.9 580.2 133.4 581.0C134.4 582.5 135.0 584.3 135.4 586.0C136.1 588.9 136.5 591.9 136.9 594.9C137.5 599.9 138.0 604.9 138.4 609.9C139.0 616.5 139.3 623.2 139.9 629.8C140.5 636.9 141.4 643.9 142.0 651.0C142.8 660.6 143.0 670.2 144.0 679.8C145.0 689.1 145.8 698.5 147.9 707.7C148.8 711.6 150.4 715.5 152.9 718.7C154.0 720.1 156.1 721.0 157.9 720.7C160.8 720.2 163.3 718.2 165.9 716.7C169.3 714.8 172.4 712.6 175.8 710.7C179.1 708.9 182.3 707.0 185.8 705.7C189.0 704.5 192.4 704.0 195.8 703.4C199.1 702.8 202.4 702.5 205.7 702.2C209.0 701.9 212.4 702.5 215.7 701.8C217.9 701.3 220.0 700.2 221.7 698.8C224.1 696.8 225.9 694.3 227.7 691.8C229.8 688.9 231.7 685.9 233.6 682.8C235.8 679.2 237.5 675.3 240.0 671.9C241.4 670.0 243.2 668.4 245.0 666.9C246.5 665.6 248.1 664.3 249.9 663.4C252.1 662.3 254.5 661.6 256.9 661.1C259.5 660.6 262.2 660.5 264.9 660.4C268.2 660.2 271.6 660.2 274.9 660.2C279.8 660.2 284.6 660.2 289.5 660.2" fill="none" stroke="#ff1a1a" stroke-width="1.9" stroke-linejoin="round"/>
<path d="M30.0 659.8C35.3 660.6 40.7 661.0 45.9 662.2C50.7 663.3 55.0 666.8 59.9 666.7C63.6 666.6 66.8 663.9 69.9 661.8C74.2 658.9 77.9 655.2 81.8 651.8C86.5 647.8 91.4 644.1 95.8 639.8C100.7 635.0 105.2 629.7 109.7 624.5C111.6 622.4 113.2 620.0 115.0 617.9C116.6 616.0 118.2 614.1 120.0 612.4C121.5 610.9 123.1 609.4 125.0 608.4C126.5 607.6 128.3 607.1 129.9 607.4C131.3 607.7 132.6 608.7 133.4 609.9C134.6 611.7 135.1 613.9 135.9 615.9C136.8 618.2 137.7 620.4 138.4 622.8C139.3 625.8 139.9 628.9 140.5 632.0C141.7 638.0 143.1 643.9 144.0 649.9C145.5 659.8 146.3 669.9 147.9 679.8C149.0 686.5 150.0 693.3 151.9 699.8C152.7 702.6 153.8 705.6 155.9 707.7C157.4 709.2 159.8 710.4 161.9 710.1C164.9 709.7 167.3 707.3 169.9 705.7C174.0 703.2 177.5 699.9 181.8 697.8C185.6 695.9 189.7 694.8 193.8 693.8C197.7 692.8 201.7 692.4 205.7 691.8C210.4 691.1 215.2 691.0 219.7 689.8C222.6 689.0 225.7 688.0 227.7 685.8C230.9 682.2 232.0 677.2 234.5 673.0C236.2 670.2 238.1 667.5 240.0 664.9C241.6 662.8 243.1 660.6 245.0 658.9C246.4 657.7 248.1 656.7 249.9 656.1C251.5 655.5 253.2 655.4 254.9 655.4C257.6 655.4 260.2 655.6 262.9 655.9C265.9 656.3 268.9 656.9 271.9 657.4C274.6 657.9 277.2 658.5 279.9 658.9C283.1 659.4 286.3 659.6 289.5 659.9" fill="none" stroke="#111" stroke-width="1.7" stroke-dasharray="4.6 5"/>
<path d="M30.0 659.8C36.6 660.6 43.3 661.2 49.9 662.2C53.3 662.7 56.6 664.7 59.9 664.1C63.6 663.5 66.9 661.1 69.9 658.8C74.2 655.6 78.1 651.8 81.8 647.8C86.1 643.1 89.7 637.7 93.8 632.9C97.6 628.4 102.1 624.5 105.7 619.9C107.5 617.6 108.3 614.7 110.0 612.4C112.1 609.5 114.7 607.1 117.0 604.4C118.7 602.3 120.1 599.8 122.0 597.9C122.8 597.1 123.9 596.7 125.0 596.4C125.9 596.1 127.0 595.7 127.9 596.1C129.2 596.6 130.2 597.7 130.9 598.9C132.0 600.7 132.8 602.8 133.4 604.9C134.1 607.2 134.4 609.6 134.9 611.9C135.4 614.6 135.9 617.2 136.4 619.9C136.9 622.9 137.6 625.8 137.9 628.8C138.8 639.1 139.1 649.5 140.0 659.9C140.8 669.9 142.0 679.8 143.0 689.8C144.0 699.8 144.4 709.8 145.9 719.7C146.7 725.1 147.8 730.6 149.9 735.6C150.5 737.1 152.3 739.2 153.9 738.6C156.7 737.5 158.0 734.1 159.9 731.7C163.4 727.1 166.2 722.1 169.9 717.7C172.9 714.1 176.1 710.6 179.8 707.7C182.8 705.3 186.2 703.3 189.8 701.8C194.9 699.6 200.4 698.3 205.7 696.8C210.3 695.5 215.4 695.5 219.7 693.4C223.0 691.8 225.3 688.6 227.7 685.8C230.7 682.3 232.7 678.1 235.6 674.5C237.5 672.1 239.7 669.9 242.0 667.9C243.8 666.3 245.8 665.0 247.9 663.9C250.1 662.8 252.5 661.9 254.9 661.4C258.2 660.7 261.6 660.5 264.9 660.4C273.1 660.1 281.3 660.3 289.5 660.2" fill="none" stroke="#11ee11" stroke-width="2.3" stroke-linecap="square" stroke-dasharray="0 5"/>
</g>
<rect x="30.2" y="550.0" width="259.4" height="220.3" fill="none" stroke="#1a1a1a" stroke-width="1.2"/>
<path d="M51.82 770.3v-2.4M51.82 550v2.4M73.43 770.3v-4.4M73.43 550v4.4M95.05 770.3v-2.4M95.05 550v2.4M116.67 770.3v-4.4M116.67 550v4.4M138.28 770.3v-2.4M138.28 550v2.4M159.9 770.3v-4.4M159.9 550v4.4M181.52 770.3v-2.4M181.52 550v2.4M203.13 770.3v-4.4M203.13 550v4.4M224.75 770.3v-2.4M224.75 550v2.4M246.37 770.3v-4.4M246.37 550v4.4M267.98 770.3v-2.4M267.98 550v2.4M30.2 742.76h2.4M289.6 742.76h-2.4M30.2 715.22h4.4M289.6 715.22h-4.4M30.2 687.69h2.4M289.6 687.69h-2.4M30.2 660.15h4.4M289.6 660.15h-4.4M30.2 632.61h2.4M289.6 632.61h-2.4M30.2 605.07h4.4M289.6 605.07h-4.4M30.2 577.54h2.4M289.6 577.54h-2.4" stroke="#1a1a1a" stroke-width="1.1" fill="none"/>
<g font-size="8.4" font-weight="bold" fill="#111" stroke="#111" stroke-width="0.35"><text x="30.2" y="780.9" text-anchor="middle" textLength="4.02" lengthAdjust="spacingAndGlyphs">0</text><text x="73.43" y="780.9" text-anchor="middle" textLength="8.04" lengthAdjust="spacingAndGlyphs">30</text><text x="116.67" y="780.9" text-anchor="middle" textLength="8.04" lengthAdjust="spacingAndGlyphs">60</text><text x="159.9" y="780.9" text-anchor="middle" textLength="8.04" lengthAdjust="spacingAndGlyphs">90</text><text x="203.13" y="780.9" text-anchor="middle" textLength="12.05" lengthAdjust="spacingAndGlyphs">120</text><text x="246.37" y="780.9" text-anchor="middle" textLength="12.05" lengthAdjust="spacingAndGlyphs">150</text><text x="289.6" y="780.9" text-anchor="middle" textLength="12.05" lengthAdjust="spacingAndGlyphs">180</text><text x="26.3" y="772.9" text-anchor="end" textLength="16.47" lengthAdjust="spacingAndGlyphs">-0.10</text><text x="26.3" y="717.82" text-anchor="end" textLength="16.47" lengthAdjust="spacingAndGlyphs">-0.05</text><text x="26.3" y="662.75" text-anchor="end" textLength="14.06" lengthAdjust="spacingAndGlyphs">0.00</text><text x="26.3" y="607.67" text-anchor="end" textLength="14.06" lengthAdjust="spacingAndGlyphs">0.05</text><text x="26.3" y="552.6" text-anchor="end" textLength="14.06" lengthAdjust="spacingAndGlyphs">0.10</text></g>
<defs><clipPath id="clipf"><rect x="327.2" y="550.0" width="259.2" height="220.3"/></clipPath></defs>
<g clip-path="url(#clipf)">
<path d="M327.2 659.8C331.1 660.0 335.1 660.2 339.0 660.4C341.6 660.5 344.3 661.2 346.9 660.8C350.3 660.3 353.7 659.2 356.9 657.8C360.4 656.3 363.7 654.2 366.9 652.2C370.3 650.1 373.6 647.8 376.8 645.4C380.3 642.7 383.6 639.9 386.8 636.9C390.3 633.7 393.7 630.4 396.8 626.9C399.6 623.7 401.7 619.9 404.7 616.9C406.4 615.2 408.3 613.2 410.7 613.0C412.6 612.8 414.9 614.2 415.7 615.9C418.1 620.9 418.6 626.5 419.7 631.9C421.3 639.8 422.4 647.8 423.7 655.8C425.0 663.8 426.5 671.7 427.7 679.7C428.9 688.1 429.6 696.6 431.0 705.0C432.3 712.6 433.3 720.4 435.9 727.7C437.3 731.5 439.2 736.1 442.9 737.7C445.4 738.8 448.0 735.6 449.9 733.7C453.8 729.6 456.5 724.4 459.9 719.8C463.8 714.4 467.3 708.7 471.8 703.8C475.3 700.0 479.7 697.0 483.8 693.9C487.7 690.9 491.7 687.8 496.0 685.4C499.1 683.6 502.5 682.5 505.9 681.4C508.8 680.5 512.0 680.3 514.9 679.4C517.3 678.6 519.7 677.7 521.9 676.4C523.8 675.2 525.5 673.7 526.9 671.9C528.3 670.1 529.1 668.0 529.9 665.9C530.8 663.6 531.2 661.2 531.8 658.9C532.7 655.3 533.5 651.6 534.3 648.0C535.1 644.6 535.8 641.2 536.6 637.8C537.6 633.8 538.2 629.7 539.6 625.9C540.2 624.2 540.8 621.6 542.6 621.4C544.2 621.2 544.9 623.7 545.6 625.1C547.1 628.2 547.7 631.7 549.3 634.8C551.0 638.0 552.9 641.1 555.3 643.8C557.4 646.2 560.1 648.1 562.8 649.8C565.6 651.6 568.7 652.9 571.7 654.3C574.6 655.7 577.7 656.9 580.7 658.0C582.4 658.6 584.2 659.1 586.0 659.6" fill="none" stroke="#ff1a1a" stroke-width="1.9" stroke-linejoin="round"/>
<path d="M327.2 659.8C333.8 660.5 340.3 661.9 346.9 661.8C350.3 661.8 353.7 660.7 356.9 659.4C361.8 657.4 366.5 654.8 370.9 651.8C375.9 648.3 380.3 644.0 384.8 639.9C389.0 636.1 392.6 631.7 396.8 627.9C399.3 625.6 401.8 623.3 404.7 621.5C405.6 620.9 406.9 620.3 407.7 620.9C409.9 622.7 411.5 625.3 412.7 627.9C415.2 633.0 417.0 638.5 418.7 643.9C421.0 651.1 422.9 658.5 424.7 665.8C426.7 673.8 428.1 682.0 430.3 690.0C432.5 698.0 434.0 706.4 437.9 713.8C439.4 716.8 442.6 719.8 445.9 719.8C449.8 719.8 453.0 716.4 455.9 713.8C460.4 709.7 463.5 704.1 467.8 699.8C471.5 696.1 475.7 693.0 479.8 689.9C483.1 687.4 486.5 685.1 490.0 682.9C493.2 680.8 496.5 678.7 499.9 676.9C503.1 675.2 506.5 673.8 509.9 672.4C513.2 671.1 516.9 670.8 519.9 668.9C522.5 667.2 524.3 664.5 525.9 661.9C527.6 659.1 528.9 656.1 529.9 653.0C531.0 649.4 531.8 645.7 532.3 642.0C533.3 634.7 533.6 627.3 534.4 619.9C534.9 615.4 535.4 610.9 536.4 606.5C536.8 605.0 537.3 603.2 538.6 602.3C539.2 601.8 540.3 602.8 540.6 603.5C541.7 606.3 541.9 609.4 542.6 612.4C543.8 617.9 544.8 623.5 546.3 628.9C547.5 633.4 548.8 638.0 550.8 642.3C552.3 645.6 554.1 648.9 556.8 651.3C559.3 653.5 562.6 654.7 565.8 655.8C568.7 656.8 571.7 656.7 574.7 657.3C578.5 658.0 582.2 658.8 586.0 659.6" fill="none" stroke="#111" stroke-width="1.7" stroke-dasharray="4.6 5"/>
<path d="M327.2 659.8C333.8 660.1 340.3 661.0 346.9 660.8C350.3 660.7 353.7 660.1 356.9 658.8C360.5 657.4 363.8 655.1 366.9 652.8C371.1 649.8 375.2 646.6 378.8 642.9C382.6 638.9 385.4 634.2 388.8 629.9C391.4 626.5 393.7 622.8 396.8 619.9C398.4 618.4 400.5 616.5 402.7 616.9C405.3 617.3 407.5 619.6 408.7 621.9C411.6 627.5 413.2 633.7 414.7 639.9C416.9 649.1 418.0 658.5 419.7 667.8C421.1 675.2 422.7 682.6 424.0 690.0C425.4 697.9 425.9 706.0 428.0 713.8C429.3 718.7 431.1 723.6 434.0 727.7C435.9 730.4 438.6 733.3 441.9 733.7C444.9 734.1 447.7 731.7 449.9 729.7C453.8 726.3 456.6 721.8 459.9 717.8C463.9 713.1 467.4 708.0 471.8 703.8C476.1 699.7 480.8 696.0 485.8 692.9C490.2 690.2 495.1 688.2 499.9 686.4C503.1 685.2 506.6 684.7 509.9 683.9C513.2 683.1 516.7 682.6 519.9 681.4C522.7 680.4 525.7 679.4 527.9 677.4C530.1 675.4 531.5 672.6 532.8 669.9C534.2 666.9 534.5 663.4 535.9 660.3C537.1 657.6 538.3 654.9 540.4 652.8C542.0 651.2 544.1 650.2 546.3 649.8C548.3 649.4 550.4 650.0 552.3 650.5C554.9 651.2 557.3 652.6 559.8 653.5C562.8 654.6 565.8 655.6 568.8 656.5C571.7 657.3 574.7 658.0 577.7 658.5C580.4 659.0 583.2 659.2 586.0 659.6" fill="none" stroke="#11ee11" stroke-width="2.3" stroke-linecap="square" stroke-dasharray="0 5"/>
<path d="M327.2 659.8C333.8 660.1 340.4 661.9 346.9 660.8C354.0 659.6 360.8 656.5 366.9 652.8C373.5 648.8 379.1 643.2 384.8 637.9C389.1 633.9 392.5 629.0 396.8 624.9C399.2 622.6 401.4 619.4 404.7 618.9C407.1 618.6 409.6 620.8 410.7 622.9C413.8 628.8 414.8 635.5 416.7 641.9C418.8 649.2 420.9 656.4 422.7 663.8C424.9 672.8 426.2 682.0 428.5 691.0C430.6 699.4 432.2 708.0 435.9 715.8C437.8 719.8 440.5 724.7 444.9 725.7C448.4 726.5 451.2 722.1 453.9 719.8C458.2 716.1 461.7 711.7 465.8 707.8C470.4 703.4 474.7 698.6 479.8 694.8C484.1 691.6 488.9 689.1 493.7 686.9C498.2 684.8 503.0 683.4 507.7 681.9C511.7 680.6 515.8 680.0 519.7 678.4C522.5 677.3 525.3 675.9 527.6 673.9C529.4 672.3 530.2 669.9 531.5 668.0C532.2 666.9 533.5 666.2 533.8 664.9C535.0 660.0 535.3 655.0 535.8 650.0C536.5 643.3 536.9 636.7 537.5 630.0C537.9 625.3 538.5 620.7 539.0 616.0C539.5 611.8 540.2 607.6 540.6 603.4C540.9 600.3 540.7 597.1 541.0 594.0C541.2 591.5 540.8 588.7 542.0 586.4C542.4 585.6 543.6 587.6 543.9 588.5C545.1 592.1 545.8 595.9 546.5 599.7C547.5 604.6 548.0 609.7 549.1 614.6C550.4 620.4 551.6 626.3 553.8 631.9C555.2 635.6 557.4 639.1 559.8 642.3C562.4 645.7 565.5 648.7 568.8 651.3C571.5 653.4 574.6 655.0 577.7 656.5C580.4 657.8 583.2 658.6 586.0 659.6" fill="none" stroke="#2a8a2a" stroke-width="1.7" stroke-dasharray="5 2.6 1.6 2.6"/>
</g>
<rect x="327.2" y="550.0" width="259.2" height="220.3" fill="none" stroke="#1a1a1a" stroke-width="1.2"/>
<path d="M348.8 770.3v-2.4M348.8 550v2.4M370.4 770.3v-4.4M370.4 550v4.4M392 770.3v-2.4M392 550v2.4M413.6 770.3v-4.4M413.6 550v4.4M435.2 770.3v-2.4M435.2 550v2.4M456.8 770.3v-4.4M456.8 550v4.4M478.4 770.3v-2.4M478.4 550v2.4M500 770.3v-4.4M500 550v4.4M521.6 770.3v-2.4M521.6 550v2.4M543.2 770.3v-4.4M543.2 550v4.4M564.8 770.3v-2.4M564.8 550v2.4M327.2 742.76h2.4M586.4 742.76h-2.4M327.2 715.22h4.4M586.4 715.22h-4.4M327.2 687.69h2.4M586.4 687.69h-2.4M327.2 660.15h4.4M586.4 660.15h-4.4M327.2 632.61h2.4M586.4 632.61h-2.4M327.2 605.07h4.4M586.4 605.07h-4.4M327.2 577.54h2.4M586.4 577.54h-2.4" stroke="#1a1a1a" stroke-width="1.1" fill="none"/>
<g font-size="8.4" font-weight="bold" fill="#111" stroke="#111" stroke-width="0.35"><text x="327.2" y="780.9" text-anchor="middle" textLength="4.02" lengthAdjust="spacingAndGlyphs">0</text><text x="370.4" y="780.9" text-anchor="middle" textLength="8.04" lengthAdjust="spacingAndGlyphs">30</text><text x="413.6" y="780.9" text-anchor="middle" textLength="8.04" lengthAdjust="spacingAndGlyphs">60</text><text x="456.8" y="780.9" text-anchor="middle" textLength="8.04" lengthAdjust="spacingAndGlyphs">90</text><text x="500" y="780.9" text-anchor="middle" textLength="12.05" lengthAdjust="spacingAndGlyphs">120</text><text x="543.2" y="780.9" text-anchor="middle" textLength="12.05" lengthAdjust="spacingAndGlyphs">150</text><text x="586.4" y="780.9" text-anchor="middle" textLength="12.05" lengthAdjust="spacingAndGlyphs">180</text><text x="322.6" y="772.9" text-anchor="end" textLength="16.47" lengthAdjust="spacingAndGlyphs">-0.10</text><text x="322.6" y="717.82" text-anchor="end" textLength="16.47" lengthAdjust="spacingAndGlyphs">-0.05</text><text x="322.6" y="662.75" text-anchor="end" textLength="14.06" lengthAdjust="spacingAndGlyphs">0.00</text><text x="322.6" y="607.67" text-anchor="end" textLength="14.06" lengthAdjust="spacingAndGlyphs">0.05</text><text x="322.6" y="552.6" text-anchor="end" textLength="14.06" lengthAdjust="spacingAndGlyphs">0.10</text></g>
<text x="32.0" y="19.6" font-size="10.4" font-weight="bold" fill="#111" stroke="#111" stroke-width="0.3" textLength="105.8" lengthAdjust="spacing">(a) E<tspan font-size="8" font-weight="normal" stroke-width="0.15" dy="4.9">i</tspan><tspan dy="-4.9">=1.0 eV; (e</tspan><tspan font-size="6" dy="-3.7">−</tspan><tspan dy="3.7">,Sr)</tspan></text>
<text x="330.3" y="19.8" font-size="10.4" font-weight="bold" fill="#111" stroke="#111" stroke-width="0.3" textLength="106.3" lengthAdjust="spacing">(b) E<tspan font-size="8" font-weight="normal" stroke-width="0.15" dy="4.9">i</tspan><tspan dy="-4.9">=5.0 eV; (e</tspan><tspan font-size="6" dy="-3.7">−</tspan><tspan dy="3.7">,Sr)</tspan></text>
<text x="32.6" y="292.6" font-size="10.4" font-weight="bold" fill="#111" stroke="#111" stroke-width="0.3" textLength="112.6" lengthAdjust="spacing">(c) E<tspan font-size="8" font-weight="normal" stroke-width="0.15" dy="4.9">i</tspan><tspan dy="-4.9">=10.0 eV; (e</tspan><tspan font-size="6" dy="-3.7">−</tspan><tspan dy="3.7">,Sr)</tspan></text>
<text x="330.4" y="292.8" font-size="10.4" font-weight="bold" fill="#111" stroke="#111" stroke-width="0.3" textLength="112.2" lengthAdjust="spacing">(d) E<tspan font-size="8" font-weight="normal" stroke-width="0.15" dy="4.9">i</tspan><tspan dy="-4.9">=15.0 eV; (e</tspan><tspan font-size="6" dy="-3.7">−</tspan><tspan dy="3.7">,Sr)</tspan></text>
<text x="32.2" y="565.5" font-size="10.4" font-weight="bold" fill="#111" stroke="#111" stroke-width="0.3" textLength="112.8" lengthAdjust="spacing">(e) E<tspan font-size="8" font-weight="normal" stroke-width="0.15" dy="4.9">i</tspan><tspan dy="-4.9">=20.0 eV; (e</tspan><tspan font-size="6" dy="-3.7">−</tspan><tspan dy="3.7">,Sr)</tspan></text>
<text x="331.2" y="565.5" font-size="10.4" font-weight="bold" fill="#111" stroke="#111" stroke-width="0.3" textLength="109.4" lengthAdjust="spacing">(f) E<tspan font-size="8" font-weight="normal" stroke-width="0.15" dy="4.9">i</tspan><tspan dy="-4.9">=30.0 eV; (e</tspan><tspan font-size="6" dy="-3.7">−</tspan><tspan dy="3.7">,Sr)</tspan></text>
<text transform="translate(8.7 176.6) rotate(-90)" x="0" y="0" font-size="10" font-weight="bold" fill="#111" stroke="#111" stroke-width="0.3" textLength="110.0" lengthAdjust="spacing">Sherman Function S(<tspan font-weight="normal" stroke-width="0">θ</tspan>)</text>
<text transform="translate(600.3 177.2) rotate(-90)" x="0" y="0" font-size="10" font-weight="bold" fill="#111" stroke="#111" stroke-width="0.3" textLength="110.0" lengthAdjust="spacing">Sherman Function S(<tspan font-weight="normal" stroke-width="0">θ</tspan>)</text>
<text transform="translate(9.9 432.0) rotate(-90)" x="0" y="0" font-size="10" font-weight="bold" fill="#111" stroke="#111" stroke-width="0.3" textLength="109.8" lengthAdjust="spacing">Sherman Function S(<tspan font-weight="normal" stroke-width="0">θ</tspan>)</text>
<text transform="translate(598.8 441.0) rotate(-90)" x="0" y="0" font-size="10" font-weight="bold" fill="#111" stroke="#111" stroke-width="0.3" textLength="109.8" lengthAdjust="spacing">Sherman Function S(<tspan font-weight="normal" stroke-width="0">θ</tspan>)</text>
<text transform="translate(7.7 693.7) rotate(-90)" x="0" y="0" font-size="10" font-weight="bold" fill="#111" stroke="#111" stroke-width="0.3" textLength="109.5" lengthAdjust="spacing">Sherman Function S(<tspan font-weight="normal" stroke-width="0">θ</tspan>)</text>
<text transform="translate(598.9 713.7) rotate(-90)" x="0" y="0" font-size="10" font-weight="bold" fill="#111" stroke="#111" stroke-width="0.3" textLength="109.2" lengthAdjust="spacing">Sherman Function S(<tspan font-weight="normal" stroke-width="0">θ</tspan>)</text>
<text x="113.2" y="800" font-size="9.6" font-weight="bold" fill="#111" stroke="#111" stroke-width="0.3" textLength="94.6" lengthAdjust="spacing">Scattering Angle (<tspan font-weight="normal" stroke-width="0">θ</tspan><tspan font-size="6.2" font-weight="normal" stroke-width="0.1" dy="-5.0">0</tspan><tspan dy="5.0">)</tspan></text>
<text x="409.3" y="800" font-size="9.6" font-weight="bold" fill="#111" stroke="#111" stroke-width="0.3" textLength="94.6" lengthAdjust="spacing">Scattering Angle (<tspan font-weight="normal" stroke-width="0">θ</tspan><tspan font-size="6.2" font-weight="normal" stroke-width="0.1" dy="-5.0">0</tspan><tspan dy="5.0">)</tspan></text>
<path d="M38 203.2H42.6M47.9 203.2H52.5" stroke="#111" stroke-width="1.7"/>
<text x="59.8" y="206.0" font-size="7.9" font-weight="bold" fill="#111" stroke="#111" stroke-width="0.2" textLength="111.0" lengthAdjust="spacing">Adibzadeh &amp; Theodosiou/2004</text>
<path d="M38 212.9H57.2" stroke="#ff1a1a" stroke-width="1.9"/>
<text x="59.8" y="215.7" font-size="7.9" font-weight="bold" fill="#111" stroke="#111" stroke-width="0.2">OPMD</text>
<path d="M344 189.7H364.9" stroke="#ff1a1a" stroke-width="1.9"/>
<text x="366.8" y="192.8" font-size="8.7" font-weight="bold" fill="#111" stroke="#111" stroke-width="0.2">OPMD</text>
<path d="M344 200.9H348.6M353.8 200.9H358.6" stroke="#111" stroke-width="1.7"/>
<text x="366.8" y="204.0" font-size="8.7" font-weight="bold" fill="#111" stroke="#111" stroke-width="0.2" textLength="125.2" lengthAdjust="spacing">Adibzadeh &amp; Theodosiou/2004</text>
<path d="M343.59999999999997 211.9H345.8M349.59999999999997 211.9H351.8M355.59999999999997 211.9H357.8M361.59999999999997 211.9H363.8" stroke="#11ee11" stroke-width="2.2"/>
<text x="366.8" y="215.0" font-size="8.7" font-weight="bold" fill="#111" stroke="#111" stroke-width="0.2">OPMS</text>
<path d="M104.5 311.2H127.9" stroke="#ff1a1a" stroke-width="1.9"/>
<text x="130.9" y="314.6" font-size="9.7" font-weight="bold" fill="#111" stroke="#111" stroke-width="0.2">OPMD</text>
<path d="M104.7 323.6H109.3M114.2 323.6H118.9" stroke="#111" stroke-width="1.7"/>
<text x="130.9" y="327.0" font-size="9.7" font-weight="bold" fill="#111" stroke="#111" stroke-width="0.2" textLength="140.5" lengthAdjust="spacing">Adibzadeh &amp; Theodosiou/2004</text>
<path d="M103.9 336.4H106.1M109.9 336.4H112.1M116.0 336.4H118.19999999999999M122.10000000000001 336.4H124.3" stroke="#11ee11" stroke-width="2.2"/>
<text x="130.9" y="339.8" font-size="9.7" font-weight="bold" fill="#111" stroke="#111" stroke-width="0.2">OPMS</text>
<path d="M104.7 348.8H109.6M112.2 348.8H114M116.6 348.8H121.8M124.1 348.8H125.9" stroke="#2a8a2a" stroke-width="1.8"/>
<text x="130.9" y="352.2" font-size="9.7" font-weight="bold" fill="#111" stroke="#111" stroke-width="0.2" textLength="95.2" lengthAdjust="spacing">Kumar et al./1994/CP</text>
<path d="M406 309.8H426.7" stroke="#ff1a1a" stroke-width="1.9"/>
<text x="429.0" y="312.9" font-size="8.7" font-weight="bold" fill="#111" stroke="#111" stroke-width="0.2">OPMD</text>
<path d="M406 321.0H410.5M416 321.0H420.4" stroke="#111" stroke-width="1.7"/>
<text x="429.0" y="324.1" font-size="8.7" font-weight="bold" fill="#111" stroke="#111" stroke-width="0.2" textLength="125.0" lengthAdjust="spacing">Adibzadeh &amp; Theodosiou/2004</text>
<path d="M405.7 332.0H407.90000000000003M411.7 332.0H413.90000000000003M417.59999999999997 332.0H419.8M423.59999999999997 332.0H425.8" stroke="#11ee11" stroke-width="2.2"/>
<text x="429.0" y="335.1" font-size="8.7" font-weight="bold" fill="#111" stroke="#111" stroke-width="0.2">OPMS</text>
<rect x="141" y="565.8" width="147" height="32" fill="#fff"/>
<path d="M145 572.0H164.7" stroke="#ff1a1a" stroke-width="1.9"/>
<text x="166.6" y="574.9" font-size="8.0" font-weight="bold" fill="#111" stroke="#111" stroke-width="0.2">OPMD</text>
<path d="M145 582.5H149.5M155 582.5H159.4" stroke="#111" stroke-width="1.7"/>
<text x="166.6" y="585.4" font-size="8.0" font-weight="bold" fill="#111" stroke="#111" stroke-width="0.2" textLength="112.0" lengthAdjust="spacing">Adibzadeh &amp; Theodosiou/2004</text>
<path d="M144.9 592.2H147.1M150.9 592.2H153.1M156.9 592.2H159.1M162.9 592.2H165.1" stroke="#11ee11" stroke-width="2.2"/>
<text x="166.6" y="595.1" font-size="8.0" font-weight="bold" fill="#111" stroke="#111" stroke-width="0.2">OPMS</text>
<path d="M339.2 578.8H355.7" stroke="#ff1a1a" stroke-width="1.9"/>
<text x="357.3" y="581.3" font-size="6.9" font-weight="normal" fill="#111" stroke="#111" stroke-width="0.15">OPMD</text>
<path d="M339.2 587.5H343.5M349 587.5H353.4" stroke="#111" stroke-width="1.7"/>
<text x="357.3" y="590.0" font-size="6.9" font-weight="normal" fill="#111" stroke="#111" stroke-width="0.15" textLength="91.2" lengthAdjust="spacing">Adibzadeh &amp; Theodosiou/2004</text>
<path d="M338.7 596.1H340.90000000000003M344.9 596.1H347.1M351.0 596.1H353.20000000000005" stroke="#11ee11" stroke-width="2.2"/>
<text x="357.3" y="598.6" font-size="6.9" font-weight="normal" fill="#111" stroke="#111" stroke-width="0.15">OPMS</text>
<path d="M339.1 604.9H344.6M347 604.9H348.7" stroke="#2a8a2a" stroke-width="1.8"/>
<text x="357.3" y="607.4" font-size="6.9" font-weight="normal" fill="#111" stroke="#111" stroke-width="0.15" textLength="61.0" lengthAdjust="spacing">Kumar et al./1994/CP</text>
</svg></body></html>
